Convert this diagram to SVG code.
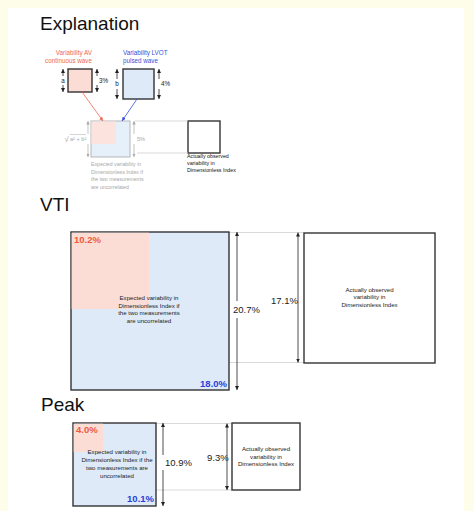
<svg xmlns="http://www.w3.org/2000/svg" width="474" height="511" viewBox="0 0 474 511">
<defs>
<style>
text{font-family:"Liberation Sans",Arial,sans-serif;}
.title{font-size:19px;fill:#111;}
.box{stroke:#333;stroke-width:1.4;}
.pink{fill:#fcddd6;}
.blue{fill:#deeaf7;}
.guide{stroke:#cfcfcf;stroke-width:0.8;fill:none;}
.dim{stroke:#222;stroke-width:0.8;fill:none;marker-end:url(#ah);}
.gdim{stroke:#aaa;stroke-width:0.7;fill:none;marker-end:url(#gah);}
.pct{font-size:9.5px;fill:#222;}
.redb{font-size:9.5px;font-weight:bold;fill:#ee5a3c;}
.blueb{font-size:9.5px;font-weight:bold;fill:#2a3fd8;}
.small{font-size:6.1px;fill:#222;}
.grey{font-size:5.2px;fill:#a8a8a8;}
</style>
<marker id="ah" viewBox="0 0 6 6" refX="6" refY="3" markerWidth="4" markerHeight="4" markerUnits="userSpaceOnUse" orient="auto"><path d="M0,0 L6,3 L0,6 z" fill="#222"/></marker>
<marker id="gah" viewBox="0 0 6 6" refX="6" refY="3" markerWidth="3.5" markerHeight="3.5" markerUnits="userSpaceOnUse" orient="auto"><path d="M0,0 L6,3 L0,6 z" fill="#aaa"/></marker>
<marker id="pah" viewBox="0 0 6 6" refX="6" refY="3" markerWidth="4" markerHeight="4" markerUnits="userSpaceOnUse" orient="auto"><path d="M0,0 L6,3 L0,6 z" fill="#ee6a50"/></marker>
<marker id="bah" viewBox="0 0 6 6" refX="6" refY="3" markerWidth="4" markerHeight="4" markerUnits="userSpaceOnUse" orient="auto"><path d="M0,0 L6,3 L0,6 z" fill="#3a4fd8"/></marker>
</defs>
<rect x="0" y="0" width="474" height="511" fill="#fdfde9"/>
<rect x="8" y="8" width="456" height="503" fill="#ffffff"/>

<!-- Explanation -->
<text class="title" x="40" y="30">Explanation</text>

<g id="avBox">
<text x="92" y="55" font-size="6.3" fill="#ee6a50" text-anchor="end">Variability AV</text>
<text x="92" y="63" font-size="6.3" fill="#ee6a50" text-anchor="end">continuous wave</text>
<rect class="box pink" x="68" y="69" width="24" height="23"/>
<path class="dim" d="M63,76 L63,69"/><path class="dim" d="M63,85 L63,92"/>
<text x="63" y="83" font-size="6.3" fill="#222" text-anchor="middle">a</text>
<path class="dim" d="M97,76 L97,69"/><path class="dim" d="M97,85 L97,92"/>
<text x="99" y="83" font-size="6.3" fill="#222">3%</text>
</g>

<g id="lvotBox">
<text x="123" y="55" font-size="6.3" fill="#3a4fd8">Variability LVOT</text>
<text x="123" y="63" font-size="6.3" fill="#3a4fd8">pulsed wave</text>
<rect class="box blue" x="123" y="69" width="31" height="30"/>
<path class="dim" d="M117,79 L117,69"/><path class="dim" d="M117,89 L117,99"/>
<text x="117" y="86" font-size="6.3" fill="#222" text-anchor="middle">b</text>
<path class="dim" d="M159,79 L159,69"/><path class="dim" d="M159,89 L159,99"/>
<text x="161" y="86" font-size="6.3" fill="#222">4%</text>
</g>

<g id="expectedExplain">
<rect x="91" y="121" width="39" height="36" fill="#e6f0fa" stroke="#b0b0b0" stroke-width="0.9"/>
<rect x="91.5" y="121.5" width="24.5" height="22.5" fill="#fce3dd"/>
<path class="gdim" d="M88,134 L88,121"/><path class="gdim" d="M88,144 L88,157"/>
<text x="70" y="141" font-size="5.6" fill="#a8a8a8">a² + b²</text>
<text x="64.5" y="142" font-size="7.5" fill="#a8a8a8">√</text>
<line x1="69.5" y1="134.5" x2="86" y2="134.5" stroke="#a8a8a8" stroke-width="0.5"/>
<path class="gdim" d="M134,134 L134,121"/><path class="gdim" d="M134,144 L134,157"/>
<text x="137" y="141" font-size="5.6" fill="#a8a8a8">5%</text>
<text class="grey" x="91" y="166">Expected variability in</text>
<text class="grey" x="91" y="173.5">Dimensionless Index if</text>
<text class="grey" x="91" y="181">the two measurements</text>
<text class="grey" x="91" y="188.5">are uncorrelated</text>
</g>

<g id="observedExplain">
<rect class="box" x="188" y="121" width="32" height="32" fill="#fff"/>
<text x="187" y="158" font-size="5.3" fill="#111">Actually observed</text>
<text x="187" y="165" font-size="5.3" fill="#111">variability in</text>
<text x="187" y="172" font-size="5.3" fill="#111">Dimensionless Index</text>
</g>

<g id="connectors">
<line x1="82" y1="92" x2="103" y2="121" stroke="#ee6a50" stroke-width="0.8" marker-end="url(#pah)"/>
<line x1="137" y1="99" x2="122" y2="121" stroke="#3a4fd8" stroke-width="0.8" marker-end="url(#bah)"/>
<line class="guide" x1="135" y1="121" x2="188" y2="121"/>
<line class="guide" x1="137" y1="153" x2="188" y2="153"/>
<line class="guide" x1="229" y1="232.5" x2="304" y2="232.5"/>
<line class="guide" x1="229" y1="362.5" x2="304" y2="362.5"/>
<line class="guide" x1="156" y1="423.5" x2="232" y2="423.5"/>
<line class="guide" x1="156" y1="490" x2="232" y2="490"/>
</g>

<!-- VTI -->
<text class="title" x="40" y="211">VTI</text>

<g id="vtiExpected">
<rect class="box blue" x="71" y="232" width="158" height="158"/>
<rect class="pink" x="71.7" y="232.7" width="77.3" height="76.3"/>
<text class="redb" x="74" y="243">10.2%</text>
<text class="blueb" x="227" y="387" text-anchor="end">18.0%</text>
<text class="small" x="149" y="300" text-anchor="middle">Expected variability in</text>
<text class="small" x="149" y="307.7" text-anchor="middle">Dimensionless Index if</text>
<text class="small" x="149" y="315.4" text-anchor="middle">the two measurements</text>
<text class="small" x="149" y="323.1" text-anchor="middle">are uncorrelated</text>
<path class="dim" d="M237,301 L237,232"/><path class="dim" d="M237,318 L237,390"/>
<text class="pct" x="233" y="313">20.7%</text>
</g>

<g id="vtiObserved">
<path class="dim" d="M298,297 L298,232.5"/><path class="dim" d="M298,297 L298,362.5"/>
<text class="pct" x="271" y="304">17.1%</text>
<rect class="box" x="304" y="233" width="131" height="130" fill="#fff"/>
<text class="small" x="369.5" y="292" text-anchor="middle" font-size="6.3">Actually observed</text>
<text class="small" x="369.5" y="299" text-anchor="middle" font-size="6.3">variability in</text>
<text class="small" x="369.5" y="306.5" text-anchor="middle" font-size="6.3">Dimensionless Index</text>
</g>

<!-- Peak -->
<text class="title" x="41" y="411">Peak</text>

<g id="peakExpected">
<rect class="box blue" x="73" y="423" width="83" height="83"/>
<rect class="pink" x="73.7" y="423.7" width="29.3" height="28.3"/>
<text class="redb" x="76" y="433">4.0%</text>
<text class="blueb" x="154" y="502" text-anchor="end">10.1%</text>
<text class="small" x="117" y="454" text-anchor="middle">Expected variability in</text>
<text class="small" x="117" y="462" text-anchor="middle">Dimensionless Index if the</text>
<text class="small" x="117" y="470" text-anchor="middle">two measurements are</text>
<text class="small" x="117" y="478" text-anchor="middle">uncorrelated</text>
<path class="dim" d="M163,455 L163,423"/><path class="dim" d="M163,470 L163,506"/>
<text class="pct" x="165" y="466" font-size="9">10.9%</text>
</g>

<g id="peakObserved">
<path class="dim" d="M227,456 L227,423.5"/><path class="dim" d="M227,456 L227,490"/>
<text class="pct" x="207" y="461" font-size="9">9.3%</text>
<rect class="box" x="232" y="423" width="68" height="67" fill="#fff"/>
<text class="small" x="266" y="451" text-anchor="middle">Actually observed</text>
<text class="small" x="266" y="458.5" text-anchor="middle">variability in</text>
<text class="small" x="266" y="466" text-anchor="middle">Dimensionless Index</text>
</g>
</svg>
